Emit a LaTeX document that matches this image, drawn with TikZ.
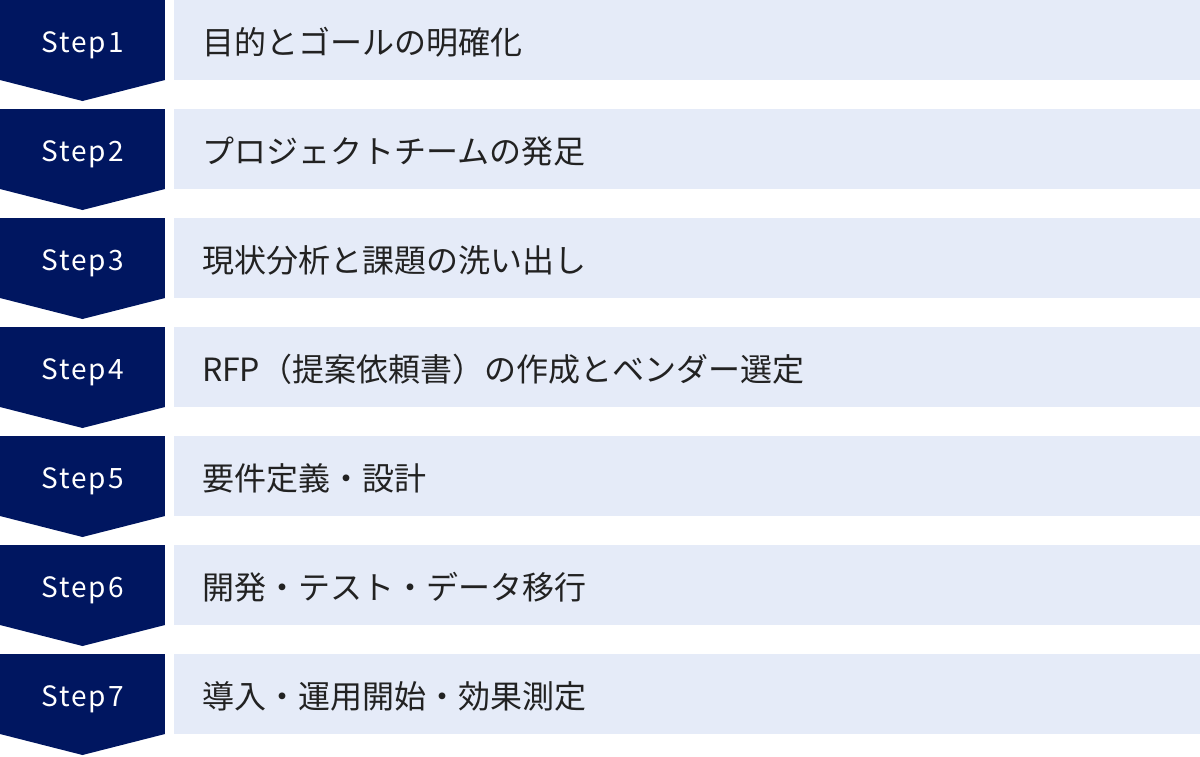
\documentclass[tikz,border=0pt]{standalone}
\usepackage{fontspec}
\setmainfont{Noto Sans CJK JP}
\newfontfamily\stepfont{Noto Sans CJK JP}[LetterSpace=7]
\usetikzlibrary{positioning}

\definecolor{navy}{HTML}{001660}
\definecolor{paleblue}{HTML}{E5EBF8}
\definecolor{ink}{HTML}{222222}

\begin{document}
\begin{tikzpicture}[
      x = 1pt, y = 1pt,            % one unit is one pixel
      node distance = 29pt and 9pt, % gap between rows / columns
      every node/.style = {inner sep = 0pt, outer sep = 0pt}
    ]

    \tikzstyle{stepbox}=[   % dark label on the left
      fill = navy,
      text = white,
      minimum width = 165pt,
      minimum height = 80pt,
      text height = 24pt,   % puts the baseline 12pt under the middle
      text depth = 0pt,
      font = \stepfont\fontsize{28}{34}\selectfont
    ]

    \tikzstyle{band}=[      % pale bar on the right
      fill = paleblue,
      minimum width = 1026pt,
      minimum height = 80pt
    ]

    \tikzstyle{task}=[      % text in the bar
      text = ink,
      anchor = west,
      font = \fontsize{32}{38}\selectfont
    ]

    \useasboundingbox (0,0) rectangle (1200,-756);

    % Step labels
    \node[stepbox, anchor = north west] (s1) at (0,0) {Step1};
    \node[stepbox] (s2) [below = of s1] {Step2};
    \node[stepbox] (s3) [below = of s2] {Step3};
    \node[stepbox] (s4) [below = of s3] {Step4};
    \node[stepbox] (s5) [below = of s4] {Step5};
    \node[stepbox] (s6) [below = of s5] {Step6};
    \node[stepbox] (s7) [below = of s6] {Step7};

    % Arrow points under each label
    \foreach \n in {s1, s2, s3, s4, s5, s6, s7}
      \fill[navy] (\n.south west) -- ([yshift = -21pt]\n.south)
        -- (\n.south east) -- cycle;

    % Bars
    \node[band] (b1) [right = of s1] {};
    \node[band] (b2) [right = of s2] {};
    \node[band] (b3) [right = of s3] {};
    \node[band] (b4) [right = of s4] {};
    \node[band] (b5) [right = of s5] {};
    \node[band] (b6) [right = of s6] {};
    \node[band] (b7) [right = of s7] {};

    % Texts
    \node[task] (t1) at ([xshift = 28pt, yshift = -2pt]b1.west) {目的とゴールの明確化};
    \node[task] (t2) at ([xshift = 28pt, yshift = -2pt]b2.west) {プロジェクトチームの発足};
    \node[task] (t3) at ([xshift = 28pt, yshift = -2pt]b3.west) {現状分析と課題の洗い出し};
    \node[task] (t4) at ([xshift = 28pt, yshift = -2pt]b4.west) {RFP（提案依頼書）の作成とベンダー選定};
    \node[task] (t5) at ([xshift = 28pt, yshift = -2pt]b5.west) {要件定義・設計};
    \node[task] (t6) at ([xshift = 28pt, yshift = -2pt]b6.west) {開発・テスト・データ移行};
    \node[task] (t7) at ([xshift = 28pt, yshift = -2pt]b7.west) {導入・運用開始・効果測定};

  \end{tikzpicture}
\end{document}
